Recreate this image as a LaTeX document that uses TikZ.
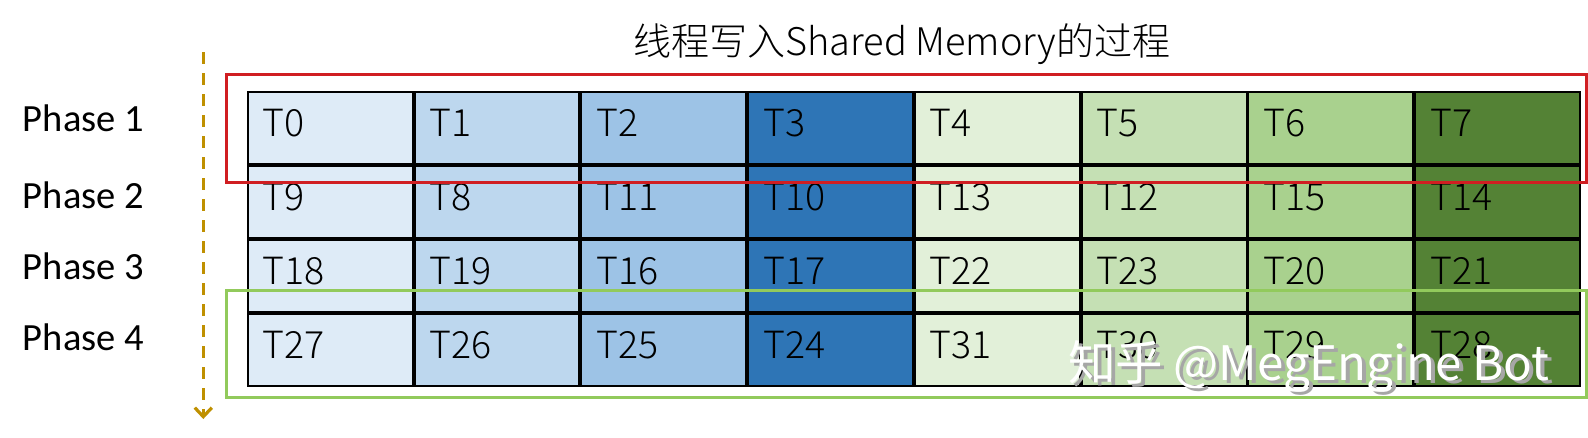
\documentclass[tikz,border=0pt]{standalone}
\usepackage{fontspec}
\setmainfont{Liberation Sans}
\newfontfamily\cjk{Noto Sans CJK SC}
\newfontfamily\cjkthin{Noto Sans CJK SC}[UprightFont={* Light}]
\newfontfamily\phasefont{Carlito}
\usepackage{tikz}
\usetikzlibrary{matrix,arrows.meta}

\definecolor{b1}{HTML}{DEEBF7}
\definecolor{b2}{HTML}{BDD7EE}
\definecolor{b3}{HTML}{9DC3E6}
\definecolor{b4}{HTML}{2E75B6}
\definecolor{g1}{HTML}{E2F0D9}
\definecolor{g2}{HTML}{C5E0B4}
\definecolor{g3}{HTML}{A9D18E}
\definecolor{g4}{HTML}{548235}
\definecolor{boxred}{RGB}{208,30,34}
\definecolor{boxgreen}{RGB}{146,202,92}
\definecolor{gold}{HTML}{BF9000}

\tikzset{
	cell/.style={draw, line width=2pt, minimum width=164.8pt, minimum height=71.9pt,
		text width=134.8pt, inner xsep=15pt, inner ysep=0pt, outer sep=0pt, align=left,
		text height=27.5pt, text depth=10pt, font=\cjkthin\fontsize{37.5}{40}\selectfont},
	phase/.style={font=\phasefont\fontsize{38.5}{42}\selectfont, inner sep=0pt},
	ttl/.style={font=\cjkthin\fontsize{38}{42}\selectfont, inner sep=0pt},
	wmark/.style={font=\cjk\fontsize{47.5}{52}\selectfont, inner sep=0pt},
	redbox/.style={draw=boxred, line width=3pt},
	greenbox/.style={draw=boxgreen, line width=3pt},
	flow/.style={draw=gold, line width=3.2pt, dash pattern=on 12pt off 9pt,
		-{Straight Barb[length=9pt, width=17pt]}}
}

\begin{document}
\begin{tikzpicture}[x=1pt, y=-1pt]
	\useasboundingbox[fill=white] (0,0) rectangle (1588,437);
	\node[ttl, anchor=base] (title) at (902,55) {线程写入Shared Memory的过程};
	\matrix (m) [matrix of nodes, anchor=north west, inner sep=0pt, outer sep=0pt,
		row sep=0pt, column sep=0pt, nodes={cell},
		column 1/.style={nodes={fill=b1}}, column 2/.style={nodes={fill=b2}},
		column 3/.style={nodes={fill=b3}}, column 4/.style={nodes={fill=b4}},
		column 5/.style={nodes={fill=g1}}, column 6/.style={nodes={fill=g2}},
		column 7/.style={nodes={fill=g3}}, column 8/.style={nodes={fill=g4}}] at (246.7,91) {
		T0 & T1 & T2 & T3 & T4 & T5 & T6 & T7 \\
		T9 & T8 & T11 & T10 & T13 & T12 & T15 & T14 \\
		T18 & T19 & T16 & T17 & T22 & T23 & T20 & T21 \\
		T27 & T26 & T25 & T24 & T31 & T30 & T29 & T28 \\};
	\foreach \i/\y in {1/131.7, 2/208, 3/279, 4/350}
		\node[phase, anchor=base west] (ph\i) at (22.7,\y) {Phase \i};
	% phases picked out
	\draw[redbox] (226,74) rectangle (1586,182);
	\draw[greenbox] (226,290) rectangle (1586,397);
	% time runs downwards
	\coordinate (start) at (203.3,52);
	\coordinate (end) at (203.3,419);
	\path[flow] (start) -- (end);
	\node[wmark, text=black!35, anchor=base west] (wmshadow) at (1072,383) {知乎 @MegEngine Bot};
	\node[wmark, text=white, anchor=base west] (wm) at (1068,380) {知乎 @MegEngine Bot};
\end{tikzpicture}
\end{document}
